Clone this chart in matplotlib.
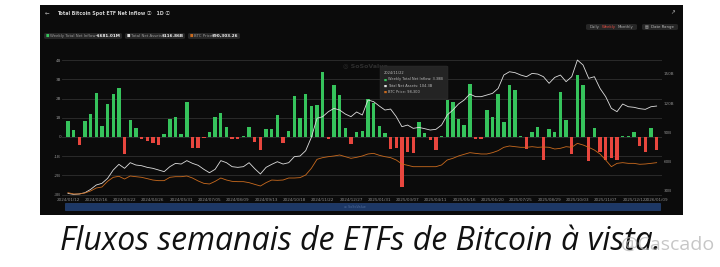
import matplotlib

matplotlib.use("Agg")
import matplotlib.pyplot as plt
from matplotlib.patches import Rectangle, FancyBboxPatch
import numpy as np

# ── Data (one value per week) ────────────────────────────────────────

weekly_inflow_b = [
    0.83, 0.35, -0.40, 0.83, 1.20, 2.29, 0.57, 1.72, 2.24, 2.57,
    -0.89, 0.87, 0.49, -0.09, -0.19, -0.33, -0.43, 0.14, 0.94, 1.04,
    0.17, 1.84, -0.59, -0.57, -0.03, 0.24, 1.04, 1.25, 0.52, -0.10,
    -0.12, 0.05, 0.50, -0.26, -0.69, 0.42, 0.42, 1.13, -0.30, 0.31,
    2.13, 1.00, 2.22, 1.63, 1.67, 3.38, -0.12, 2.73, 2.19, 0.47,
    -0.36, 0.24, 0.31, 1.98, 1.79, 0.57, 0.21, -0.61, -0.57, -2.60,
    -0.78, -0.85, 0.76, 0.21, -0.16, -0.69, 0.03, 1.93, 1.81, 0.94,
    0.61, 2.76, -0.12, -0.12, 1.41, 1.02, 2.22, 0.78, 2.71, 2.45,
    0.05, -0.61, 0.26, 0.52, -1.18, 0.43, 0.24, 2.36, 0.89, -0.90,
    3.24, 2.71, -1.23, 0.45, -0.80, -1.22, -1.11, -1.22, 0.07, 0.03,
    0.28, -0.49, -0.76, 0.47, -0.68,
]

net_assets_b = [
    27.3, 26.3, 26.7, 28.0, 31.4, 35.9, 37.6, 42.7, 51.3, 57.1,
    53.0, 58.8, 56.4, 55.7, 54.0, 53.0, 51.3, 49.6, 54.7, 58.1,
    57.4, 60.9, 58.1, 56.1, 52.0, 48.5, 52.0, 60.9, 58.8, 54.7,
    54.0, 54.7, 58.8, 52.6, 47.2, 54.0, 57.1, 59.8, 57.4, 58.8,
    65.0, 65.6, 71.1, 84.8, 104.3, 106.0, 111.1, 114.5, 112.8, 108.7,
    106.0, 110.8, 107.7, 123.1, 121.4, 116.9, 112.8, 113.8, 106.0, 95.7,
    97.4, 94.0, 95.0, 93.7, 92.3, 93.0, 97.4, 107.7, 112.8, 119.0,
    123.1, 129.2, 126.5, 126.5, 128.2, 129.9, 135.0, 148.7, 152.1, 151.1,
    148.7, 147.0, 150.4, 149.7, 147.0, 140.2, 146.3, 148.7, 141.9, 147.0,
    164.1, 159.0, 145.3, 147.0, 135.0, 126.5, 114.5, 111.1, 119.0, 116.2,
    115.6, 114.2, 113.5, 116.2, 116.9,
]

btc_price_k = [
    42.6, 40.5, 40.5, 42.1, 45.3, 50.0, 51.6, 60.6, 67.0, 68.6,
    64.3, 69.1, 68.0, 67.0, 64.9, 62.7, 61.7, 61.7, 67.0, 68.0,
    68.0, 69.1, 65.9, 61.2, 57.4, 56.4, 60.6, 65.9, 62.7, 60.6,
    60.1, 60.1, 58.5, 55.8, 53.2, 58.5, 62.7, 62.2, 62.7, 65.9,
    65.9, 66.5, 70.7, 81.3, 95.6, 98.3, 99.8, 100.9, 102.5, 99.8,
    97.2, 98.8, 100.9, 104.1, 105.1, 102.0, 99.8, 98.3, 94.5, 88.2,
    86.1, 83.9, 83.9, 83.9, 83.9, 83.9, 86.6, 94.5, 97.2, 100.9,
    103.6, 106.2, 105.1, 104.1, 104.1, 106.2, 109.4, 114.7, 116.8, 115.7,
    114.7, 114.7, 115.7, 114.7, 115.2, 114.7, 112.0, 113.1, 115.7, 114.7,
    121.0, 118.4, 114.7, 110.4, 104.1, 94.5, 83.9, 89.2, 90.3, 89.2,
    89.2, 87.7, 88.2, 89.2, 90.3,
]

tick_weeks = [0, 5, 10, 15, 20, 25, 30, 35, 40, 45, 50,
              55, 60, 65, 70, 75, 80, 85, 90, 95, 100, 104]
tick_labels = [
    "2024/01/12", "2024/02/16", "2024/03/22", "2024/04/26", "2024/05/31",
    "2024/07/05", "2024/08/09", "2024/09/13", "2024/10/18", "2024/11/22",
    "2024/12/27", "2025/01/31", "2025/03/07", "2025/04/11", "2025/05/16",
    "2025/06/20", "2025/07/25", "2025/08/29", "2025/10/03", "2025/11/07",
    "2025/12/12", "2026/01/09",
]

left_ticks = [-3, -2, -1, 0, 1, 2, 3, 4]
left_labels = ["-3B", "-2B", "-1B", "0", "1B", "2B", "3B", "4B"]
right_ticks = [30, 60, 90, 120, 150]
right_labels = ["30B", "60B", "90B", "120B", "150B"]

# ── Style ────────────────────────────────────────────────────────────

BG = "#0b0b0b"
GREEN = "#36c35c"
RED = "#e8463e"
WHITE_LINE = "#dedede"
ORANGE = "#c96a1e"
GRID = "#2f2f2f"
TICK = "#8c8c8c"
PILL = "#262626"
SYMBOL_FONTS = ["DejaVu Sans", "Noto Sans CJK SC"]

W, H = 720, 267


def fx(px):
    return px / W


def fy(py):
    return (H - py) / H


fig = plt.figure(figsize=(7.2, 2.67), dpi=100)
fig.patch.set_facecolor("white")

# dark screenshot panel
fig.add_artist(Rectangle((fx(40), fy(215)), fx(683) - fx(40), fy(5) - fy(215),
                         transform=fig.transFigure, facecolor=BG,
                         edgecolor="none", zorder=0))

# ── Chart ────────────────────────────────────────────────────────────

ax = fig.add_axes([fx(62.3), fy(196.5), fx(600), fy(57.3) - fy(196.5)])
ax.patch.set_visible(False)
x = np.arange(len(weekly_inflow_b))
colors = [GREEN if v >= 0 else RED for v in weekly_inflow_b]
ax.bar(x, weekly_inflow_b, width=0.6, color=colors, linewidth=0, zorder=2)
ax.set_xlim(-1, len(x))
ax.set_ylim(-3.1, 4.15)
ax.set_yticks(left_ticks)
ax.set_yticklabels(left_labels)
ax.set_xticks(tick_weeks)
ax.set_xticklabels(tick_labels)
ax.yaxis.grid(True, color=GRID, linewidth=0.6)
ax.set_axisbelow(True)
ax.tick_params(axis="both", length=0, colors=TICK, labelsize=3.0, pad=1)
for s in ax.spines.values():
    s.set_visible(False)

ax2 = ax.twinx()
ax2.plot(x, net_assets_b, color=WHITE_LINE, linewidth=0.6, zorder=5)
ax2.set_ylim(24.1, 166.9)
ax2.set_yticks(right_ticks)
ax2.set_yticklabels(right_labels)
ax2.tick_params(axis="y", length=0, colors=TICK, labelsize=3.0, pad=1)
for s in ax2.spines.values():
    s.set_visible(False)

ax3 = ax.twinx()
ax3.plot(x, btc_price_k, color=ORANGE, linewidth=0.6, zorder=4)
ax3.set_ylim(36.5, 257.8)
ax3.axis("off")

# faint watermark of the data source
fig.text(fx(343), fy(66), "◎ SoSoValue", fontsize=4.5, color="#2e2e2e",
         ha="left", va="center", fontweight="bold")

# ── Header row ───────────────────────────────────────────────────────

fig.text(fx(45), fy(13), "←", fontsize=4, color="#bbbbbb", va="center")
fig.text(fx(57), fy(13), "Total Bitcoin Spot ETF Net Inflow ⓘ   1D ⓘ",
         fontsize=3.4, color="#d0d0d0", va="center", fontweight="bold",
         family=SYMBOL_FONTS)
fig.text(fx(673), fy(13), "↗", fontsize=4, color="#bbbbbb", va="center",
         ha="center")

pills = [
    (44, 122, GREEN, "Weekly Total Net Inflow ", "-$681.01M"),
    (125, 185, WHITE_LINE, "Total Net Assets ", "$116.86B"),
    (188, 240, ORANGE, "BTC Price ", "$90,303.26"),
]
for x0, x1, c, name, val in pills:
    fig.add_artist(FancyBboxPatch((fx(x0), fy(39)), fx(x1) - fx(x0),
                                  fy(33) - fy(39),
                                  boxstyle="round,pad=0,rounding_size=0.004",
                                  transform=fig.transFigure, facecolor=PILL,
                                  edgecolor="none"))
    fig.text(fx(x0 + 2), fy(36), "■", fontsize=2.6, color=c, va="center")
    fig.text(fx(x0 + 6), fy(36), name, fontsize=2.8, color="#9a9a9a",
             va="center")
    fig.text(fx(x1 - 1.5), fy(36), val, fontsize=3.0, color="#f0f0f0",
             va="center", ha="right", fontweight="bold")

fig.add_artist(FancyBboxPatch((fx(586), fy(30)), fx(51), fy(24) - fy(30),
                              boxstyle="round,pad=0,rounding_size=0.004",
                              transform=fig.transFigure, facecolor=PILL,
                              edgecolor="none"))
fig.text(fx(590), fy(27), "Daily", fontsize=2.8, color="#aaaaaa", va="center")
fig.text(fx(602), fy(27), "Weekly", fontsize=2.8, color="#e0493e", va="center")
fig.text(fx(618), fy(27), "Monthly", fontsize=2.8, color="#aaaaaa", va="center")
fig.add_artist(FancyBboxPatch((fx(642), fy(30)), fx(36), fy(24) - fy(30),
                              boxstyle="round,pad=0,rounding_size=0.004",
                              transform=fig.transFigure, facecolor=PILL,
                              edgecolor="none"))
fig.text(fx(645), fy(27), "▤  Date Range", fontsize=2.8, color="#bbbbbb",
         va="center")

# ── Tooltip ──────────────────────────────────────────────────────────

fig.add_artist(FancyBboxPatch((fx(380), fy(99)), fx(68), fy(66) - fy(99),
                              boxstyle="round,pad=0,rounding_size=0.003",
                              transform=fig.transFigure, facecolor="#262626",
                              edgecolor="#333333", linewidth=0.3, alpha=0.95,
                              zorder=10))
tip_rows = [
    (None, "2024/11/22"),
    (GREEN, "Weekly Total Net Inflow: 3.38B"),
    (WHITE_LINE, "Total Net Assets: 104.3B"),
    (ORANGE, "BTC Price: 98,300"),
]
for k, (c, txt) in enumerate(tip_rows):
    yy = fy(73 + k * 6.4)
    if c is not None:
        fig.text(fx(384), yy, "■", fontsize=2.3, color=c, va="center",
                 zorder=11)
    fig.text(fx(384 if c is None else 388), yy, txt, fontsize=2.6,
             color="#b8b8b8", va="center", zorder=11)

# ── Range slider ─────────────────────────────────────────────────────

fig.add_artist(Rectangle((fx(65), fy(210)), fx(595), fy(203) - fy(210),
                         transform=fig.transFigure, facecolor="#1d3866",
                         edgecolor="#2b4c84", linewidth=0.4))
fig.text(fx(355), fy(206.5), "≡ SoSoValue", fontsize=2.4, color="#4e6a98",
         ha="center", va="center")

# ── Caption ──────────────────────────────────────────────────────────

fig.text(fx(60), fy(250.5), "Fluxos semanais de ETFs de Bitcoin à vista.",
         fontsize=23, family="Open Sans", style="italic",
         color="#111111", ha="left", va="baseline")
fig.text(fx(621), fy(250), "@Cascado", fontsize=14, family="Open Sans",
         color="#b4b4b4", alpha=0.75, ha="left", va="baseline")

fig.savefig("out.png", dpi=100, facecolor=fig.get_facecolor())
